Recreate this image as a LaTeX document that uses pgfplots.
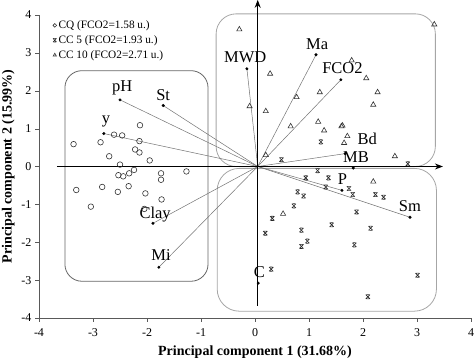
\documentclass[border=0pt]{standalone}
\usepackage{pgfplots}
\pgfplotsset{compat=1.18}
\usepackage{fontspec}
\setmainfont{Liberation Serif}
\usetikzlibrary{arrows.meta}
\pgfdeclareplotmark{hx}{%
  \pgfpathmoveto{\pgfqpoint{-\pgfplotmarksize}{-\pgfplotmarksize}}%
  \pgfpathlineto{\pgfqpoint{\pgfplotmarksize}{\pgfplotmarksize}}%
  \pgfpathmoveto{\pgfqpoint{-\pgfplotmarksize}{\pgfplotmarksize}}%
  \pgfpathlineto{\pgfqpoint{\pgfplotmarksize}{-\pgfplotmarksize}}%
  \pgfpathmoveto{\pgfqpoint{-0.6\pgfplotmarksize}{\pgfplotmarksize}}%
  \pgfpathlineto{\pgfqpoint{0.6\pgfplotmarksize}{\pgfplotmarksize}}%
  \pgfpathmoveto{\pgfqpoint{-0.6\pgfplotmarksize}{-\pgfplotmarksize}}%
  \pgfpathlineto{\pgfqpoint{0.6\pgfplotmarksize}{-\pgfplotmarksize}}%
  \pgfusepathqstroke}
\pgfplotstableread{
x y
-2.13 1.09
-2.61 0.84
-2.46 0.82
-3.36 0.59
-2.86 0.64
-2.14 0.67
-2.22 0.45
-2.14 0.37
-2.70 0.27
-1.95 0.16
-2.50 0.05
-2.24 -0.09
-2.33 -0.18
-2.53 -0.23
-2.44 -0.26
-1.74 -0.18
-1.74 -0.35
-1.27 -0.13
-3.31 -0.62
-2.83 -0.54
-2.54 -0.67
-2.34 -0.52
-2.03 -0.71
-1.73 -0.87
-3.04 -1.06
-2.05 -1.12
}\cq
\pgfplotstableread{
x y
0.49 0.18
1.22 0.65
1.16 -0.11
2.83 0.07
0.94 -0.30
1.36 -0.30
1.31 -0.54
1.74 -0.58
1.81 -0.74
2.23 -0.74
2.38 -0.81
0.79 -0.67
0.90 -0.78
0.72 -1.04
0.32 -1.37
0.19 -1.76
1.88 -1.20
1.42 -1.54
2.14 -1.63
0.86 -1.68
0.97 -1.97
0.86 -2.11
1.84 -2.07
0.30 -2.71
3.01 -2.87
2.09 -3.44
}\ccfive
\pgfplotstableread{
x y
-0.29 3.62
3.32 3.75
0.28 2.45
0.77 1.83
1.20 1.96
2.06 2.33
2.27 1.96
2.19 1.63
-0.10 1.59
0.20 1.46
0.66 1.06
1.17 1.18
1.28 0.95
1.60 1.06
1.62 1.08
1.71 0.80
1.65 0.62
0.20 0.30
2.59 0.27
1.79 2.80
2.19 -0.40
0.52 -1.25
}\ccten
\pgfplotstableread{
x y
-2.50 1.76
-1.70 1.61
-2.80 0.87
-1.89 -1.50
-1.78 -2.66
-0.15 2.58
1.13 2.95
1.59 2.29
1.67 0.34
1.82 -0.04
1.61 -0.63
2.87 -1.34
0.06 -3.08
}\vecs
\begin{document}
\begin{tikzpicture}
\begin{axis}[
  name=ax,
  scale only axis, width=432pt, height=303pt,
  xmin=-4, xmax=4, ymin=-4, ymax=4,
  axis x line=bottom, axis y line=left,
  axis line style={black!65, -},
  xtick={-4,...,4}, ytick={-4,...,4},
  tick align=outside, major tick length=4pt,
  tick style={black!65},
  /pgf/number format/assume math mode=true,
  tick label style={font=\fontsize{12}{12}\selectfont},
  xticklabel style={yshift=-3pt},
  clip=false,
  xlabel={\textbf{Principal component 1 (31.68\%)}},
  ylabel={\textbf{Principal component 2 (15.99\%)}},
  label style={font=\fontsize{14}{15}\selectfont},
  xlabel style={at={(axis description cs:0.5,-0.112)}, anchor=center},
  ylabel style={at={(axis description cs:-0.071,0.5)}, anchor=center},
  legend style={draw=none, fill=none, at={(axis description cs:0.025,0.995)}, anchor=north west,
    font=\fontsize{11.3}{12}\selectfont, row sep=1.5pt},
  legend cell align=left,
  legend image code/.code={\draw[#1, mark size=1.8pt] plot coordinates {(0cm,0cm)};},
]
% rounded boxes
\draw[black!60, line width=0.8pt, rounded corners=17pt] (axis cs:-3.52,-3.03) rectangle (axis cs:-0.87,2.53);
\draw[black!35, line width=0.8pt, rounded corners=20pt] (axis cs:-0.72,0.0) rectangle (axis cs:3.34,4.03);
\draw[black!35, line width=0.8pt, rounded corners=22pt] (axis cs:-0.70,-3.82) rectangle (axis cs:3.36,-0.05);

\addplot[only marks, mark=o, mark size=2.8pt, black!80, line width=0.6pt] table {\cq};
\addlegendentry{CQ (FCO2=1.58 u.)}
\addplot[only marks, mark=hx, mark size=2.1pt, black!85, line width=0.6pt] table {\ccfive};
\addlegendentry{CC 5 (FCO2=1.93 u.)}
\addplot[only marks, mark=triangle, mark size=3pt, black!80, line width=0.6pt] table {\ccten};
\addlegendentry{CC 10 (FCO2=2.71 u.)}

% vectors
\pgfplotsset{vec/.style={black!55, line width=0.5pt, forget plot}}
\addplot[vec] coordinates {(0.05,0) (-2.50,1.76)};
\addplot[vec] coordinates {(0.05,0) (-1.70,1.61)};
\addplot[vec] coordinates {(0.05,0) (-2.80,0.87)};
\addplot[vec] coordinates {(0.05,0) (-1.89,-1.50)};
\addplot[vec] coordinates {(0.05,0) (-1.78,-2.66)};
\addplot[vec] coordinates {(0.05,0) (-0.15,2.58)};
\addplot[vec] coordinates {(0.05,0) (1.13,2.95)};
\addplot[vec] coordinates {(0.05,0) (1.59,2.29)};
\addplot[vec] coordinates {(0.05,0) (1.67,0.34)};
\addplot[vec] coordinates {(0.05,0) (1.61,-0.63)};
\addplot[vec] coordinates {(0.05,0) (2.87,-1.34)};
\addplot[black, line width=1.5pt, forget plot] coordinates {(0.05,-1.08) (0.05,-3.68)};

% inner axes
\addplot[black, line width=1.1pt, -{Stealth[length=8pt,width=6pt]}, forget plot] coordinates {(-3.67,0) (3.48,0)};
\addplot[black, line width=1.1pt, -{Stealth[length=8pt,width=6pt]}, forget plot] coordinates {(0.05,-1.1) (0.05,4.4)};

\addplot[only marks, mark=*, mark size=1.3pt, black, forget plot] table {\vecs};

\begin{scope}[every node/.style={font=\fontsize{16.5}{17}\selectfont, inner sep=0pt}]
\node at (axis cs:-2.46,2.08) {pH};
\node at (axis cs:-1.70,1.89) {St};
\node at (axis cs:-2.76,1.18) {y};
\node at (axis cs:-1.85,-1.26) {Clay};
\node at (axis cs:-1.74,-2.34) {Mi};
\node at (axis cs:-0.18,2.88) {MWD};
\node at (axis cs:1.15,3.24) {Ma};
\node at (axis cs:1.62,2.60) {FCO2};
\node at (axis cs:2.08,0.74) {Bd};
\node at (axis cs:1.87,0.26) {MB};
\node at (axis cs:1.62,-0.32) {P};
\node at (axis cs:2.87,-1.04) {Sm};
\node at (axis cs:0.08,-2.80) {C};
\end{scope}
\end{axis}
\pgfresetboundingbox
\path[use as bounding box] ([shift={(-39pt,-43pt)}]ax.south west) rectangle ([shift={(3pt,15pt)}]ax.north east);
\end{tikzpicture}
\end{document}
